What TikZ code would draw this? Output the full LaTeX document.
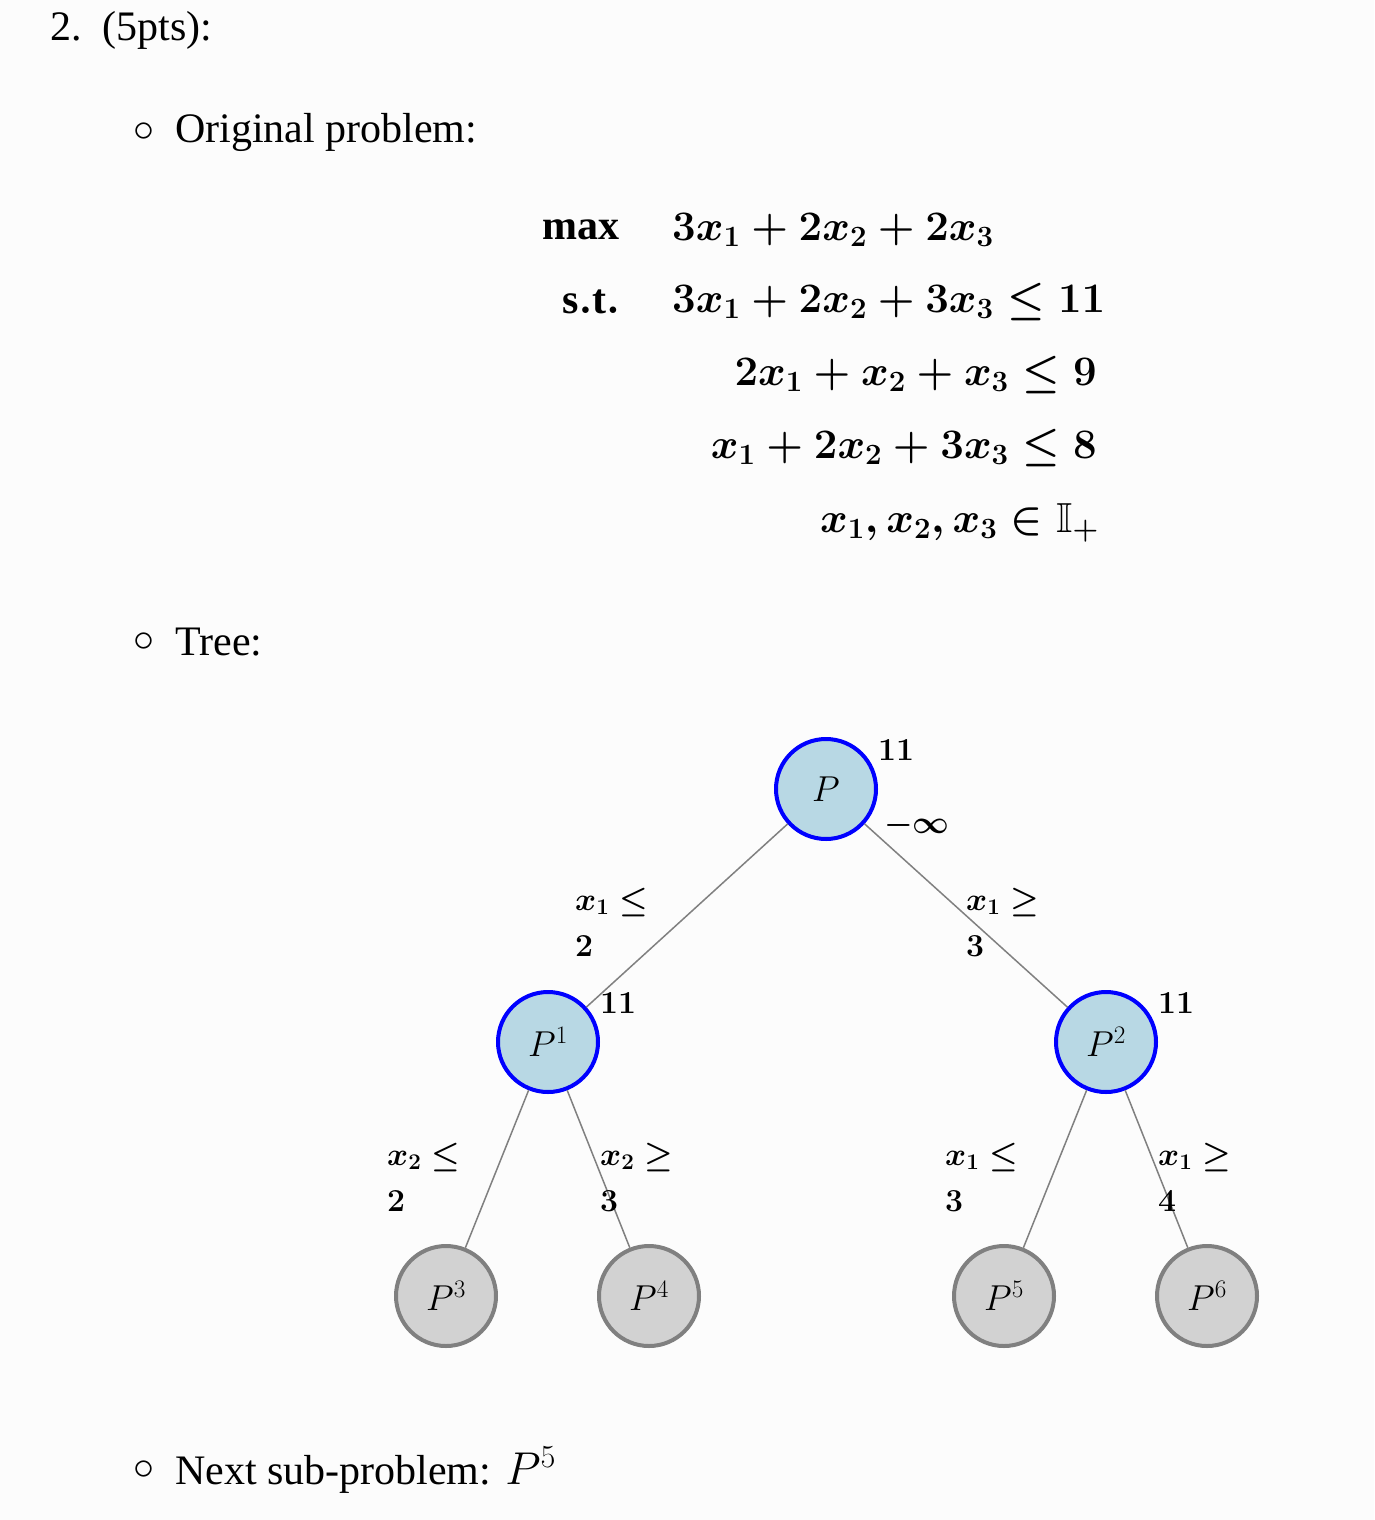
\RequirePackage{fix-cm}
\documentclass[tikz,border=0pt]{standalone}
\usepackage{amsmath,amssymb}
\usepackage{fontspec}
\setmainfont{Liberation Serif}
\definecolor{lb}{HTML}{B8D8E4}
\begin{document}
\begin{tikzpicture}[x=1pt,y=-1pt,
  txt/.style={font=\fontsize{42}{46}\selectfont, anchor=west, inner sep=0},
  eq/.style={font=\fontsize{42}{46}\selectfont\boldmath, inner sep=0},
  lab/.style={font=\fontsize{32}{46}\selectfont\boldmath, inner sep=0, anchor=west, align=left},
  bnode/.style={circle, minimum size=100pt, draw=blue, line width=4pt, fill=lb, font=\fontsize{36}{40}\selectfont, inner sep=0},
  gnode/.style={circle, minimum size=100pt, draw=gray, line width=4pt, fill=gray!35, font=\fontsize{36}{40}\selectfont, inner sep=0},
  edge/.style={draw=gray, line width=1.5pt}]
\fill[white!98!gray] (0,0) rectangle (1374,1520);
\useasboundingbox (0,0) rectangle (1374,1520);
\node[txt] (h) at (50,30) {2.\ \ (5pts):};
\node[txt] (b1) at (133,132) {$\circ$};
\node[txt] (t1) at (175,132) {Original problem:};
\node[eq, anchor=east] (m1) at (620,230) {$\mathrm{max}$};
\node[eq, anchor=east] (m2) at (620,302) {$\mathrm{s.t.}$};
\node[eq, anchor=west] (e1) at (672,230) {$3x_1+2x_2+2x_3$};
\node[eq, anchor=west] (e2) at (672,302) {$3x_1+2x_2+3x_3\le 11$};
\node[eq, anchor=east] (e3) at (1097,375) {$2x_1+x_2+x_3\le 9$};
\node[eq, anchor=east] (e4) at (1097,448) {$x_1+2x_2+3x_3\le 8$};
\node[eq, anchor=west] (e5) at (820,523) {$x_1,x_2,x_3\in \mathbb{I}_+$};
\node[txt] (b2) at (133,642) {$\circ$};
\node[txt] (t2) at (175,642) {Tree:};
\node[bnode] (P) at (826,789) {$P$};
\node[bnode] (P1) at (548,1042) {$P^1$};
\node[bnode] (P2) at (1106,1042) {$P^2$};
\node[gnode] (P3) at (446,1296) {$P^3$};
\node[gnode] (P4) at (649,1296) {$P^4$};
\node[gnode] (P5) at (1004,1296) {$P^5$};
\node[gnode] (P6) at (1207,1296) {$P^6$};
\draw[edge] (P) -- (P1); \draw[edge] (P) -- (P2);
\draw[edge] (P1) -- (P3); \draw[edge] (P1) -- (P4);
\draw[edge] (P2) -- (P5); \draw[edge] (P2) -- (P6);
\node[lab] (u0) at (878,750) {$11$};
\node[lab] (u1) at (884,825) {$-\infty$};
\node[lab] (u2) at (600,1003) {$11$};
\node[lab] (u3) at (1158,1003) {$11$};
\node[lab] (l1) at (575,922) {$x_1\le$\\$2$};
\node[lab] (l2) at (966,922) {$x_1\ge$\\$3$};
\node[lab] (l3) at (387,1177) {$x_2\le$\\$2$};
\node[lab] (l4) at (600,1177) {$x_2\ge$\\$3$};
\node[lab] (l5) at (945,1177) {$x_1\le$\\$3$};
\node[lab] (l6) at (1158,1177) {$x_1\ge$\\$4$};
\node[txt] (b3) at (133,1470) {$\circ$};
\node[txt] (t3) at (175,1470) {Next sub-problem: \fontsize{46}{50}\selectfont$P^5$};
\end{tikzpicture}
\end{document}
